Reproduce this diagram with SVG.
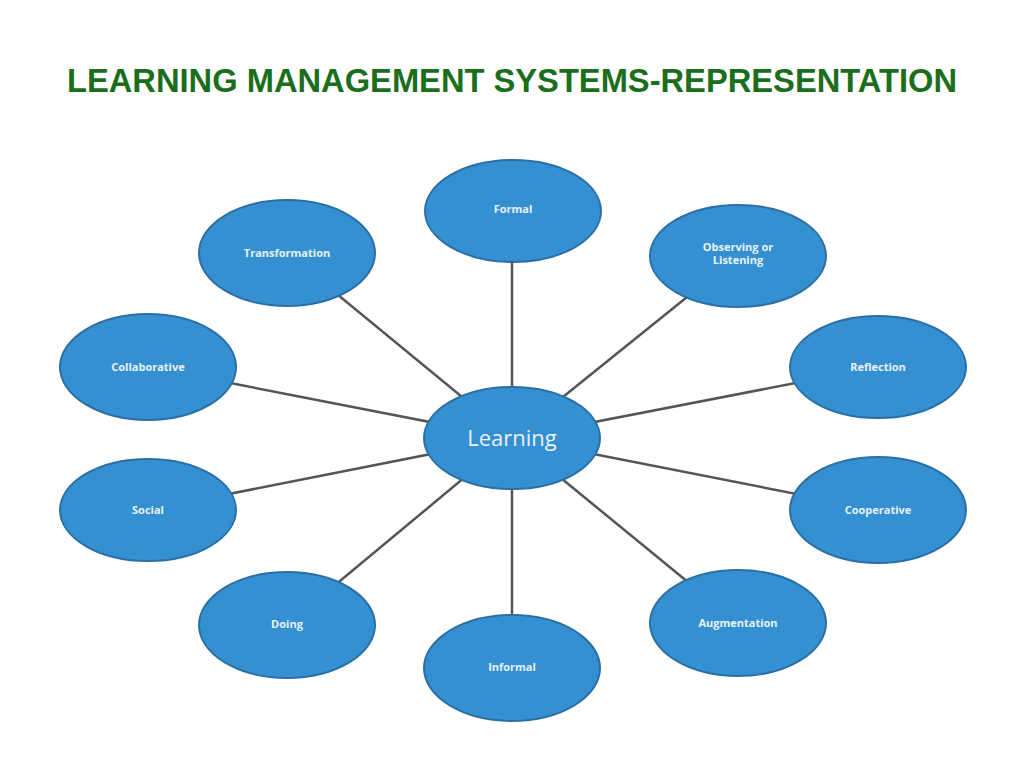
<svg xmlns="http://www.w3.org/2000/svg" width="1024" height="768" viewBox="0 0 1024 768">
<style>
.n{fill:#3590d2;stroke:#2a6fa6;stroke-width:2}
.t{font-family:"Open Sans","Liberation Sans",sans-serif;font-size:11px;font-weight:bold;fill:#e8f2fa;text-anchor:middle}
.c line{stroke:#555;stroke-width:2.5}
</style>
<rect width="1024" height="768" fill="#fff"/>
<text x="512" y="92" font-family="Liberation Sans,sans-serif" font-weight="bold" font-size="34" fill="#1b6e1b" text-anchor="middle" textLength="890" lengthAdjust="spacingAndGlyphs">LEARNING MANAGEMENT SYSTEMS-REPRESENTATION</text>
<g class="c">
<line x1="512" y1="438" x2="512" y2="211"/>
<line x1="512" y1="438" x2="287" y2="253"/>
<line x1="512" y1="438" x2="738" y2="256"/>
<line x1="512" y1="438" x2="148" y2="367"/>
<line x1="512" y1="438" x2="878" y2="367"/>
<line x1="512" y1="438" x2="148" y2="510"/>
<line x1="512" y1="438" x2="878" y2="510"/>
<line x1="512" y1="438" x2="287" y2="625"/>
<line x1="512" y1="438" x2="738" y2="623"/>
<line x1="512" y1="438" x2="512" y2="668"/>
</g>
<g id="formal"><ellipse class="n" cx="513" cy="211" rx="88" ry="51"/><text class="t" x="513" y="213">Formal</text></g>
<g id="transformation"><ellipse class="n" cx="287" cy="253" rx="88" ry="53"/><text class="t" x="287" y="257">Transformation</text></g>
<g id="observing"><ellipse class="n" cx="738" cy="256" rx="88" ry="51"/><text class="t" x="738" y="251">Observing or</text><text class="t" x="738" y="264">Listening</text></g>
<g id="collaborative"><ellipse class="n" cx="148" cy="367" rx="88" ry="53"/><text class="t" x="148" y="371">Collaborative</text></g>
<g id="reflection"><ellipse class="n" cx="878" cy="367" rx="88" ry="51"/><text class="t" x="878" y="371">Reflection</text></g>
<g id="learning"><ellipse class="n" cx="512" cy="438" rx="88" ry="51"/><text x="512" y="446" font-family="Open Sans,Liberation Sans,sans-serif" font-size="22" fill="#e8f2fa" text-anchor="middle">Learning</text></g>
<g id="social"><ellipse class="n" cx="148" cy="510" rx="88" ry="51"/><text class="t" x="148" y="514">Social</text></g>
<g id="cooperative"><ellipse class="n" cx="878" cy="510" rx="88" ry="53"/><text class="t" x="878" y="514">Cooperative</text></g>
<g id="doing"><ellipse class="n" cx="287" cy="625" rx="88" ry="53"/><text class="t" x="287" y="628">Doing</text></g>
<g id="augmentation"><ellipse class="n" cx="738" cy="623" rx="88" ry="53"/><text class="t" x="738" y="627">Augmentation</text></g>
<g id="informal"><ellipse class="n" cx="512" cy="668" rx="88" ry="53"/><text class="t" x="512" y="671">Informal</text></g>
</svg>
